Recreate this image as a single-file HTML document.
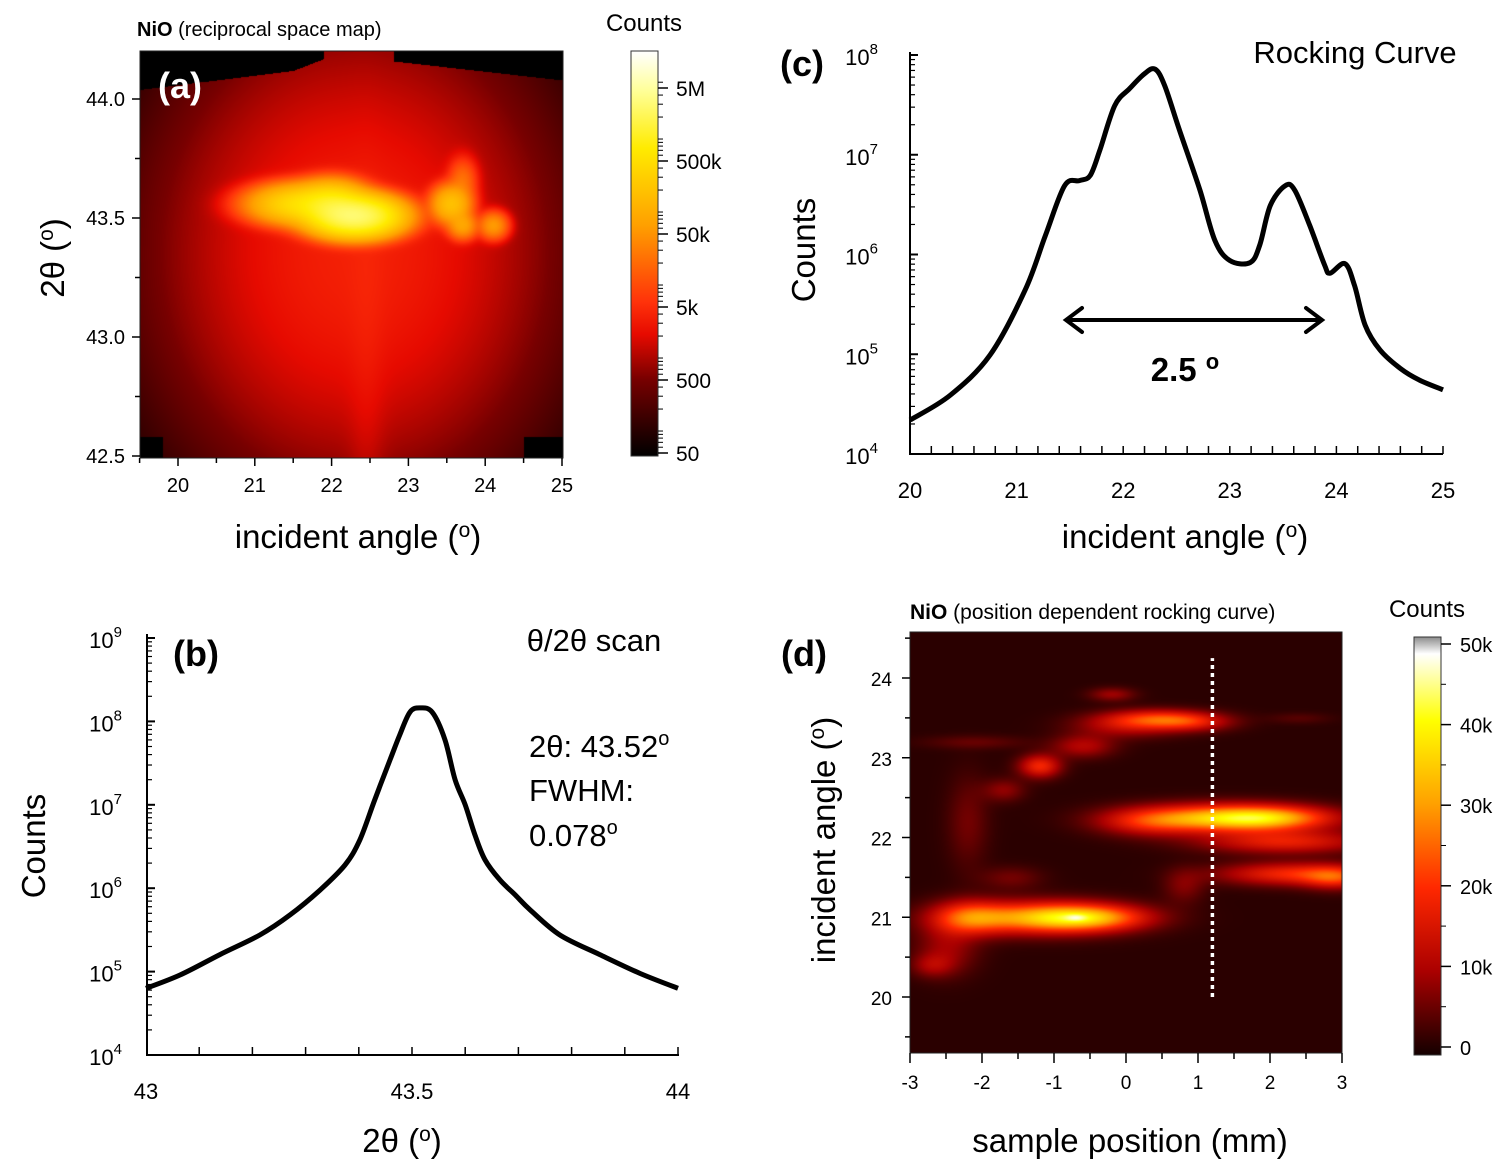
<!DOCTYPE html>
<html><head><meta charset="utf-8">
<style>
html,body{margin:0;padding:0;background:#fff;}
#wrap{position:relative;width:1506px;height:1174px;overflow:hidden;font-family:"Liberation Sans",sans-serif;}
canvas{position:absolute;}
svg{position:absolute;left:0;top:0;}
</style></head>
<body>
<div id="wrap">
<canvas id="mapA" width="423" height="407" style="left:140px;top:51px"></canvas>
<canvas id="mapD" width="432" height="421" style="left:910px;top:632px"></canvas>
<svg id="svg" width="1506" height="1174"></svg>
</div>
<script>
// ---------- data ----------
const scanB_x = [43.000,43.064,43.139,43.214,43.271,43.327,43.374,43.402,43.430,43.459,43.477,43.496,43.515,43.538,43.562,43.581,43.600,43.618,43.637,43.665,43.694,43.722,43.778,43.853,43.929,44.000];
const scanB_counts = [6.3e4,9.1e4,1.6e5,2.75e5,4.8e5,9.5e5,1.9e6,3.8e6,1.15e7,3.5e7,6.9e7,1.29e8,1.45e8,1.29e8,6.0e7,2.0e7,1.0e7,4.4e6,2.2e6,1.26e6,8.3e5,5.5e5,2.75e5,1.6e5,9.5e4,6.3e4];
const rockC_x = [20.00,20.38,20.75,21.08,21.27,21.45,21.59,21.69,21.78,21.92,22.06,22.20,22.30,22.39,22.53,22.72,22.86,23.00,23.19,23.28,23.38,23.52,23.61,23.75,23.89,23.94,24.08,24.17,24.27,24.41,24.60,24.78,25.00];
const rockC_counts = [2.19e4,3.9e4,9.8e4,4.4e5,1.55e6,4.9e6,5.5e6,6.2e6,1.1e7,3.1e7,4.6e7,6.5e7,7.2e7,4.9e7,1.74e7,4.4e6,1.38e6,8.7e5,8.3e5,1.23e6,3.1e6,4.9e6,4.4e6,1.95e6,7.8e5,6.5e5,8.1e5,4.9e5,1.95e5,1.1e5,7.2e4,5.5e4,4.4e4];
// panel (a) blobs: [angle, 2theta, amplitude counts, sigmaX, sigmaY]
const blobsA = [[22.3,43.35,3000,1.3,0.5],[22.45,42.9,600,0.15,0.5],[22.3,43.51,1.5e6,0.28,0.04],[21.6,43.56,3e5,0.32,0.04],[22.0,43.56,4e5,0.22,0.045],[23.55,43.56,1.2e5,0.13,0.04],[23.7,43.47,5e4,0.1,0.03],[24.1,43.47,4e4,0.1,0.03],[23.7,43.66,1.5e4,0.1,0.05]];
// panel (d) blobs: [position mm, angle, amplitude k, sigmaX, sigmaY]
const blobsD = [[-1.2,21.0,28,0.8,0.14],[-0.5,21.0,20,0.55,0.11],[-0.7,21.0,6,0.1,0.03],[-2.2,21.0,16,0.35,0.15],[-2.5,20.6,8,0.3,0.22],[-2.7,20.4,7,0.2,0.1],[1.4,22.25,30,0.85,0.12],[2.0,22.25,16,0.6,0.1],[0.3,22.2,12,0.5,0.12],[2.2,21.95,16,0.8,0.1],[2.3,21.55,18,0.7,0.1],[2.9,21.5,14,0.3,0.1],[-1.2,22.9,18,0.2,0.1],[-0.6,23.15,10,0.3,0.1],[0.0,23.4,10,0.5,0.1],[0.4,23.5,16,0.5,0.08],[0.9,23.45,12,0.4,0.08],[-0.2,23.8,8,0.22,0.06],[-1.7,22.6,7,0.2,0.1],[-2.1,23.2,4,0.5,0.06],[-2.2,22.2,5,0.2,0.4],[0.8,21.4,6,0.2,0.15],[-1.6,21.5,5,0.3,0.1],[2.4,23.5,3,0.3,0.05]];
const cbA_labels = ["5M","500k","50k","5k","500","50"];
const cbA_values = [5e6,5e5,5e4,5e3,500,50];
const cbD_labels = ["50k","40k","30k","20k","10k","0"];
const cbD_values = [50,40,30,20,10,0];

// ---------- helpers ----------
const NS="http://www.w3.org/2000/svg";
const svg=document.getElementById('svg');
function el(tag,attrs,parent){const e=document.createElementNS(NS,tag);for(const k in attrs)e.setAttribute(k,attrs[k]);(parent||svg).appendChild(e);return e;}
function txt(x,y,s,size,opts){opts=opts||{};const t=el('text',{x:x,y:y,'font-size':size,'font-family':'"Liberation Sans",sans-serif','text-anchor':opts.anchor||'start',fill:opts.fill||'#000','font-weight':opts.bold?'bold':'normal'});if(opts.rot)t.setAttribute('transform','rotate(-90 '+x+' '+y+')');t.innerHTML=s;return t;}
function lin(d0,d1,r0,r1){return v=>r0+(v-d0)*(r1-r0)/(d1-d0);}
function smoothPath(pts){let d='M'+pts[0][0]+','+pts[0][1];for(let i=0;i<pts.length-1;i++){const p0=pts[Math.max(0,i-1)],p1=pts[i],p2=pts[i+1],p3=pts[Math.min(pts.length-1,i+2)];const c1=[p1[0]+(p2[0]-p0[0])/6,p1[1]+(p2[1]-p0[1])/6],c2=[p2[0]-(p3[0]-p1[0])/6,p2[1]-(p3[1]-p1[1])/6];d+=' C'+c1[0].toFixed(1)+','+c1[1].toFixed(1)+' '+c2[0].toFixed(1)+','+c2[1].toFixed(1)+' '+p2[0].toFixed(1)+','+p2[1].toFixed(1);}return d;}
function interp(stops,t){t=Math.max(0,Math.min(1,t));for(let i=0;i<stops.length-1;i++){if(t<=stops[i+1][0]){const a=stops[i],b=stops[i+1],f=(t-a[0])/(b[0]-a[0]);return [0,1,2].map(k=>Math.round(a[1][k]+(b[1][k]-a[1][k])*f));}}return stops[stops.length-1][1];}
const cmapA=[[0,[0,0,0]],[0.19,[120,0,0]],[0.3,[230,10,0]],[0.38,[255,50,10]],[0.57,[255,160,0]],[0.76,[255,235,0]],[0.9,[255,255,150]],[1,[255,255,255]]];
const cmapD=[[0,[20,0,0]],[0.04,[50,0,0]],[0.2,[170,0,0]],[0.4,[255,40,0]],[0.6,[255,160,0]],[0.8,[255,255,0]],[0.96,[255,255,255]],[1,[140,140,140]]];
function gauss(dx,dy,sx,sy){return Math.exp(-0.5*(dx*dx/(sx*sx)+dy*dy/(sy*sy)));}
function topEdge(x){
 if(x<21.5) return 44.04+0.08*(x-19.5)/2;
 if(x<21.9) return 44.12+0.05*(x-21.5)/0.4;
 if(x<22.8) return 99;
 return 44.16-0.08*(x-22.8)/2.2;
}

// ---------- panel (a) ----------
(function(){
 const X=lin(20,25,178,562), Y=lin(44,42.5,99,456);
 const c=document.getElementById('mapA'),ctx=c.getContext('2d'),W=c.width,H=c.height,img=ctx.createImageData(W,H);
 const xs=lin(178-140,562-140,20,25), ys=lin(99-51,456-51,44,42.5);
 for(let j=0;j<H;j++)for(let i=0;i<W;i++){const x=xs(i),y=ys(j);let v=40;for(const b of blobsA)v+=b[2]*gauss(x-b[0],y-b[1],b[3],b[4]);
  if(y>topEdge(x))v=Math.min(v,45);
  if(y<42.58&&(x<19.8||x>24.5))v=Math.min(v,45);
  const t=(Math.log10(v)-1.7)/(6.9-1.7);const col=interp(cmapA,t);const k=(j*W+i)*4;img.data[k]=col[0];img.data[k+1]=col[1];img.data[k+2]=col[2];img.data[k+3]=255;}
 ctx.putImageData(img,0,0);
 el('rect',{x:140,y:51,width:423,height:407,fill:'none',stroke:'#222','stroke-width':1,});
 const g=el('g',{stroke:'#000','stroke-width':1.5});
 for(let v=19.5;v<=25.01;v+=0.5){el('line',{x1:X(v),y1:458,x2:X(v),y2:Math.abs(v-Math.round(v))<0.01?466:463},g);}
 [20,21,22,23,24,25].forEach(v=>txt(X(v),492,v,20,{anchor:'middle'}));
 for(let v=42.5;v<=44.01;v+=0.25){el('line',{x1:140,y1:Y(v),x2:Math.abs(v*2-Math.round(v*2))<0.01?132:135,y2:Y(v)},g);}
 ["44.0","43.5","43.0","42.5"].forEach(s=>txt(125,Y(+s)+7,s,20,{anchor:'end'}));
 txt(180,98,'(a)',36,{bold:true,fill:'#fff',anchor:'middle'});
 txt(137,36,'<tspan font-weight="bold">NiO</tspan> (reciprocal space map)',20);
 txt(358,548,'incident angle (<tspan dy="-11" font-size="21">o</tspan><tspan dy="11">)</tspan>',33,{anchor:'middle'});
 txt(64,258,'2θ (<tspan dy="-11" font-size="21">o</tspan><tspan dy="11">)</tspan>',33,{anchor:'middle',rot:true});
 const defs=el('defs',{});const lg=el('linearGradient',{id:'gA',x1:0,y1:1,x2:0,y2:0},defs);
 cmapA.forEach(s=>el('stop',{offset:s[0],'stop-color':'rgb('+s[1].join(',')+')'},lg));
 el('rect',{x:631,y:51,width:27,height:405,fill:'url(#gA)',stroke:'#333','stroke-width':1,});
 const CY=v=>lin(Math.log10(50),Math.log10(5e6),453,88)(Math.log10(v));
 cbA_values.forEach((v,i)=>{el('line',{x1:658,x2:668,y1:CY(v),y2:CY(v),stroke:'#000','stroke-width':1.5});txt(676,CY(v)+8,cbA_labels[i],21);});
 for(let e=1;e<7;e++)for(let m=1;m<10;m++){const v=m*Math.pow(10,e);if(v>50&&v<6.5e6)el('line',{x1:658,x2:663,y1:CY(v),y2:CY(v),stroke:'#000','stroke-width':1});}
 txt(644,31,'Counts',24,{anchor:'middle'});
})();

// ---------- panel (c) ----------
(function(){
 const X=lin(20,25,910,1443), Y=v=>lin(4,8,454,55)(Math.log10(v));
 const g=el('g',{stroke:'#000','stroke-width':2});
 el('line',{x1:910,y1:52,x2:910,y2:455},g);el('line',{x1:909,y1:454,x2:1443,y2:454},g);
 for(let e=4;e<8;e++)for(let m=1;m<10;m++){const v=m*Math.pow(10,e);el('line',{x1:910,x2:m==1?918:915,y1:Y(v),y2:Y(v),'stroke-width':m==1?2:1.2},g);}
 el('line',{x1:910,x2:918,y1:Y(1e8),y2:Y(1e8)},g);
 for(let v=20.2;v<=25.01;v+=0.2)el('line',{x1:X(v),x2:X(v),y1:454,y2:446,'stroke-width':1.5},g);
 [20,21,22,23,24,25].forEach(v=>txt(X(v),498,v,22,{anchor:'middle'}));
 [4,5,6,7,8].forEach(e=>txt(878,Y(Math.pow(10,e))+10,'10<tspan dy="-11" font-size="15">'+e+'</tspan>',22,{anchor:'end'}));
 const pts=rockC_x.map((x,i)=>[X(x),Y(rockC_counts[i])]);
 el('path',{d:smoothPath(pts),fill:'none',stroke:'#000','stroke-width':5,'stroke-linejoin':'round',});
 const ag=el('g',{stroke:'#000','stroke-width':4,fill:'none','stroke-linecap':'round'});
 el('line',{x1:1068,y1:320,x2:1320,y2:320},ag);el('polyline',{points:'1082,308 1066,320 1082,332'},ag);el('polyline',{points:'1306,308 1322,320 1306,332'},ag);
 txt(1185,381,'2.5 <tspan dy="-12" font-size="22">o</tspan>',33,{anchor:'middle',bold:true});
 txt(802,76,'(c)',36,{bold:true,anchor:'middle'});
 txt(1355,63,'Rocking Curve',31,{anchor:'middle'});
 txt(1185,548,'incident angle (<tspan dy="-11" font-size="21">o</tspan><tspan dy="11">)</tspan>',33,{anchor:'middle'});
 txt(815,250,'Counts',33,{anchor:'middle',rot:true});
})();

// ---------- panel (b) ----------
(function(){
 const X=lin(43,44,146,678), Y=v=>lin(4,9,1055,638)(Math.log10(v));
 const g=el('g',{stroke:'#000','stroke-width':2});
 el('line',{x1:147,y1:634,x2:147,y2:1056},g);el('line',{x1:146,y1:1055,x2:679,y2:1055},g);
 for(let e=4;e<9;e++)for(let m=1;m<10;m++){const v=m*Math.pow(10,e);el('line',{x1:147,x2:m==1?155:152,y1:Y(v),y2:Y(v),'stroke-width':m==1?2:1.2},g);}
 el('line',{x1:147,x2:155,y1:Y(1e9),y2:Y(1e9)},g);
 for(let v=43.1;v<=44.01;v+=0.1)el('line',{x1:X(v),x2:X(v),y1:1055,y2:1047,'stroke-width':1.5},g);
 [43,43.5,44].forEach(v=>txt(X(v),1099,v,22,{anchor:'middle'}));
 [4,5,6,7,8,9].forEach(e=>txt(122,Y(Math.pow(10,e))+10,'10<tspan dy="-11" font-size="15">'+e+'</tspan>',22,{anchor:'end'}));
 const pts=scanB_x.map((x,i)=>[X(x),Y(scanB_counts[i])]);
 el('path',{d:smoothPath(pts),fill:'none',stroke:'#000','stroke-width':5,'stroke-linejoin':'round',});
 txt(196,666,'(b)',36,{bold:true,anchor:'middle'});
 txt(594,651,'θ/2θ scan',31,{anchor:'middle'});
 txt(529,757,'2θ: 43.52<tspan dy="-12" font-size="20">o</tspan>',31);
 txt(529,801,'FWHM:',31);
 txt(529,846,'0.078<tspan dy="-12" font-size="20">o</tspan>',31);
 txt(402,1152,'2θ (<tspan dy="-11" font-size="21">o</tspan><tspan dy="11">)</tspan>',33,{anchor:'middle'});
 txt(45,846,'Counts',33,{anchor:'middle',rot:true});
})();

// ---------- panel (d) ----------
(function(){
 const X=lin(-3,3,910,1342), Y=lin(20,24,997,678);
 const c=document.getElementById('mapD'),ctx=c.getContext('2d'),W=c.width,H=c.height,img=ctx.createImageData(W,H);
 const xs=lin(0,432,-3,3), ys=lin(997-632,678-632,20,24);
 for(let j=0;j<H;j++)for(let i=0;i<W;i++){const x=xs(i),y=ys(j);let v=1.5;for(const b of blobsD)v+=b[2]*gauss(x-b[0],y-b[1],b[3],b[4]);
  const t=v/52;const col=interp(cmapD,t);const k=(j*W+i)*4;img.data[k]=col[0];img.data[k+1]=col[1];img.data[k+2]=col[2];img.data[k+3]=255;}
 ctx.putImageData(img,0,0);
 el('rect',{x:910,y:632,width:432,height:421,fill:'none',stroke:'#222','stroke-width':1,});
 el('line',{x1:X(1.2),x2:X(1.2),y1:Y(20),y2:Y(24.25),stroke:'#fff','stroke-width':3.5,'stroke-dasharray':'4,4',});
 const g=el('g',{stroke:'#000','stroke-width':1.5});
 for(let v=-3;v<=3.01;v+=0.5)el('line',{x1:X(v),x2:X(v),y1:1053,y2:Math.abs(v-Math.round(v))<0.01?1063:1059},g);
 [-3,-2,-1,0,1,2,3].forEach(v=>txt(X(v),1089,v,19,{anchor:'middle'}));
 for(let v=19.5;v<=24.51;v+=0.5)el('line',{x1:910,x2:Math.abs(v-Math.round(v))<0.01?902:905,y1:Y(v),y2:Y(v)},g);
 [20,21,22,23,24].forEach(v=>txt(892,Y(v)+8,v,19,{anchor:'end'}));
 txt(804,666,'(d)',36,{bold:true,anchor:'middle'});
 txt(910,619,'<tspan font-weight="bold">NiO</tspan> (position dependent rocking curve)',21);
 txt(1130,1152,'sample position (mm)',33,{anchor:'middle'});
 txt(835,840,'incident angle (<tspan dy="-11" font-size="21">o</tspan><tspan dy="11">)</tspan>',33,{anchor:'middle',rot:true});
 const defs=el('defs',{});const lg=el('linearGradient',{id:'gD',x1:0,y1:1,x2:0,y2:0},defs);
 cmapD.forEach(s=>el('stop',{offset:s[0],'stop-color':'rgb('+s[1].join(',')+')'},lg));
 el('rect',{x:1414,y:637,width:27,height:418,fill:'url(#gD)',stroke:'#333','stroke-width':1,});
 const CY=lin(0,50,1047,644);
 cbD_values.forEach((v,i)=>{el('line',{x1:1441,x2:1451,y1:CY(v),y2:CY(v),stroke:'#000','stroke-width':1.5});txt(1460,CY(v)+8,cbD_labels[i],20);});
 for(let v=5;v<50;v+=10)el('line',{x1:1441,x2:1446,y1:CY(v),y2:CY(v),stroke:'#000','stroke-width':1});
 txt(1427,617,'Counts',24,{anchor:'middle'});
})();
</script>
</body></html>
